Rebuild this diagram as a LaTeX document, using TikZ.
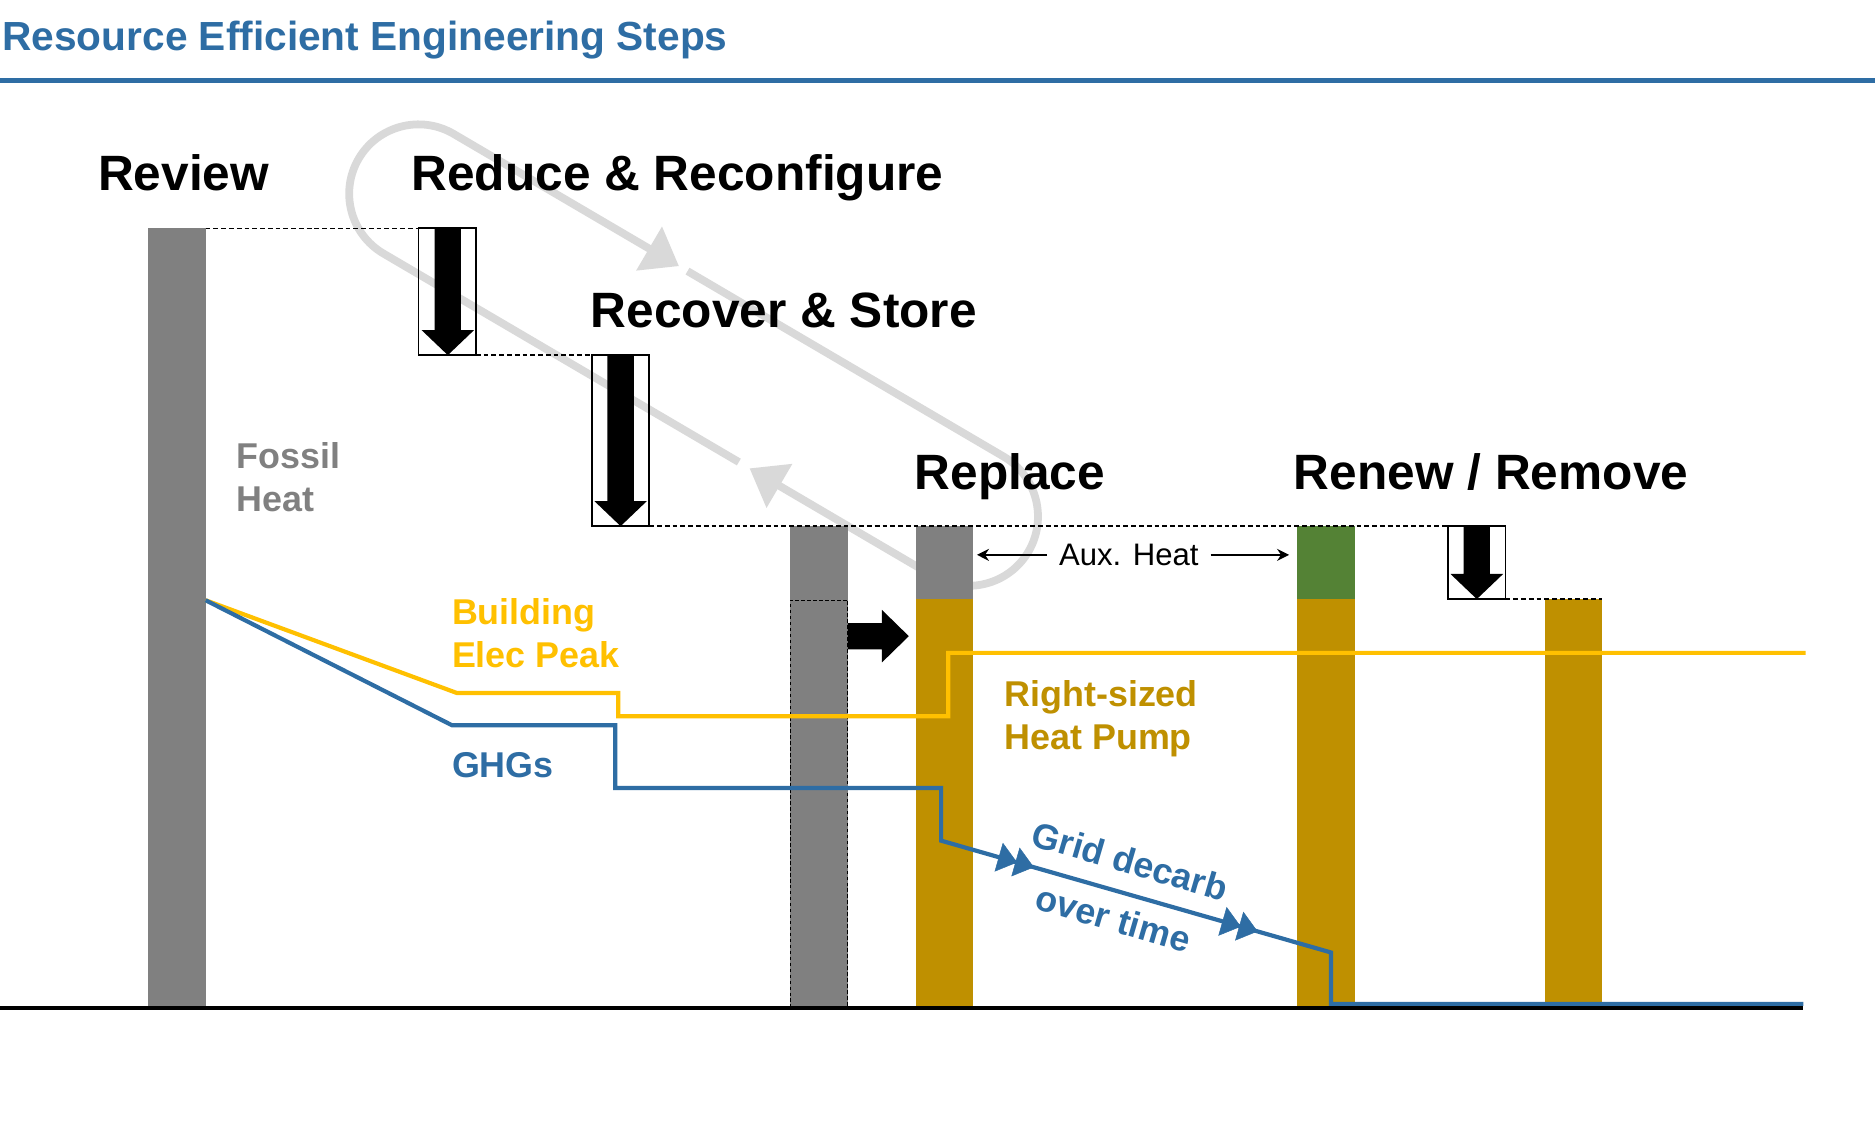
\documentclass[tikz,border=0pt]{standalone}
\usepackage{fontspec}
\setmainfont{Liberation Sans}
\usetikzlibrary{arrows.meta,decorations.markings,calc}
\definecolor{rblue}{HTML}{2E6DA4}
\definecolor{rgray}{HTML}{808080}
\definecolor{rgold}{HTML}{BF9000}
\definecolor{rgreen}{HTML}{548235}
\definecolor{ryellow}{HTML}{FFC000}
\definecolor{rloop}{HTML}{D9D9D9}
\begin{document}
\begin{tikzpicture}[x=1pt,y=-1pt,
  every node/.style={inner sep=0pt, outer sep=0pt},
  barnode/.style={anchor=north west, minimum width=48pt, draw=none},
  stepbox/.style={anchor=north west, minimum width=48pt, draw=black, line width=1.5pt},
  guide/.style={black, line width=1.3pt, dash pattern=on 4pt off 2.5pt},
  hdr/.style={anchor=base west, font=\fontsize{41.5}{49}\selectfont\bfseries},
  lbl/.style={anchor=base west, align=left, font=\fontsize{30}{36}\selectfont\bfseries},
  looppath/.style={rloop, line width=6.5pt, -{Triangle[length=29pt,width=41pt]}},
  trend/.style={line width=3.5pt, line join=miter},
  auxarrow/.style={black, line width=1.6pt, -{Stealth[length=10pt,width=10pt]}},
]
\fill[white] (0,0) rectangle (1568,941);
\useasboundingbox (0,0) rectangle (1568,941);

% title
\node[anchor=base west, text=rblue, font=\fontsize{34}{40}\selectfont\bfseries] (title) at (2,42) {Resource Efficient Engineering Steps};
\draw[rblue, line width=4.5pt] (0,67.5) -- (1568,67.5);

% loop
\begin{scope}[shift={(350,162)}, rotate=-30.4]
\draw[looppath] (226.8,-58) -- (533.4,-58) .. controls (565.4,-58) and (591.4,-32) .. (591.4,0) .. controls (591.4,32) and (565.4,58) .. (533.4,58) -- (355,58);
\draw[looppath] (344.6,58) -- (0,58) .. controls (-32,58) and (-58,32) .. (-58,0) .. controls (-58,-32) and (-32,-58) .. (0,-58) -- (218.5,-58);
\end{scope}

% bars and boxes
\node[barnode, fill=rgray, minimum height=652pt] (review) at (124,191) {};
\node[stepbox, minimum height=106pt] (box1) at (350,191) {};
\node[stepbox, minimum height=143pt] (box2) at (495,297) {};
\node[barnode, fill=rgray, minimum height=403pt] (oldbar) at (661,440) {};
\node[anchor=north west, minimum width=48pt, minimum height=341pt, draw=black, line width=1.1pt, dash pattern=on 3pt off 2pt] (moved) at (661,502) {};
\node[barnode, fill=rgray, minimum height=61pt] (auxA) at (766,440) {};
\node[barnode, fill=rgold, minimum height=342pt] (hpA) at (766,501) {};
\node[barnode, fill=rgreen, minimum height=61pt] (auxB) at (1085,440) {};
\node[barnode, fill=rgold, minimum height=342pt] (hpB) at (1085,501) {};
\node[stepbox, minimum height=61pt] (box3) at (1211,440) {};
\node[barnode, fill=rgold, minimum height=342pt] (hpC) at (1292,501) {};

% dashed guides
\draw[guide] (review.north east) -- (box1.north west);
\draw[guide] (box1.south east) -- (box2.north west);
\draw[guide] (box2.south east) -- (box3.north west);
\draw[guide] (box3.south east) -- (hpC.north east);

% down arrows
\fill[black] (363.5,191) -- (385.5,191) -- (385.5,276) -- (396.5,276) -- (374.5,297) -- (352.5,276) -- (363.5,276) -- cycle;
\fill[black] (508,297) -- (530,297) -- (530,419) -- (541,419) -- (519,440) -- (497,419) -- (508,419) -- cycle;
\fill[black] (1224,440) -- (1246,440) -- (1246,480) -- (1257,480) -- (1235,501) -- (1213,480) -- (1224,480) -- cycle;
% right arrow
\fill[black] (709,521) -- (737.5,521) -- (737.5,510) -- (760,532) -- (737.5,554) -- (737.5,543) -- (709,543) -- cycle;

% trend lines
\draw[trend, ryellow] (172,502) -- (382,579.5) -- (517,579.5) -- (517,599) -- (793,599) -- (793,546) -- (1510,546);
\draw[trend, rblue] (172,502) -- (378,606.5) -- (514.5,606.5) -- (514.5,659) -- (787,659) -- (787,703) -- (1113,796.5) -- (1113,839.5) -- (1508,839.5);
\path[decoration={markings,
  mark=at position 0.195 with {\arrow[rblue]{Triangle[length=16pt,width=25pt]}},
  mark=at position 0.238 with {\arrow[rblue]{Triangle[length=16pt,width=25pt]}},
  mark=at position 0.769 with {\arrow[rblue]{Triangle[length=16pt,width=25pt]}},
  mark=at position 0.812 with {\arrow[rblue]{Triangle[length=16pt,width=25pt]}}}, decorate] (787,703) -- (1113,796.5);

% baseline
\draw[black, line width=2.8pt] (0,843) -- (1508,843);

% aux heat
\node[font=\fontsize{26}{30}\selectfont, inner xsep=10pt] (auxlbl) at (944,464) {Aux. Heat};
\draw[auxarrow] (auxlbl.west) -- ($(auxA.east |- auxlbl.west)+(3,0)$);
\draw[auxarrow] (auxlbl.east) -- ($(auxB.west |- auxlbl.east)+(-7,0)$);

% labels (base anchor = baseline of last line)
\node[lbl, text=rgray] (fossil) at (198,428) {Fossil\\Heat};
\node[lbl, text=ryellow] (elec) at (378,558) {Building\\Elec Peak};
\node[lbl, text=rblue] (ghg) at (378,650) {GHGs};
\node[lbl, text=rgold] (hp) at (840,627) {Right-sized\\Heat Pump};
\node[text=rblue, font=\fontsize{30}{50}\selectfont\bfseries, align=center, rotate=-16.3] (grid) at (938,744) {Grid decarb\\over time};

% headers
\node[hdr] (hreview) at (82,159) {Review};
\node[hdr] (hreduce) at (344,159) {Reduce \& Reconfigure};
\node[hdr] (hrecover) at (494,274) {Recover \& Store};
\node[hdr] (hreplace) at (765,409) {Replace};
\node[hdr] (hrenew) at (1082,409) {Renew / Remove};
\end{tikzpicture}
\end{document}
